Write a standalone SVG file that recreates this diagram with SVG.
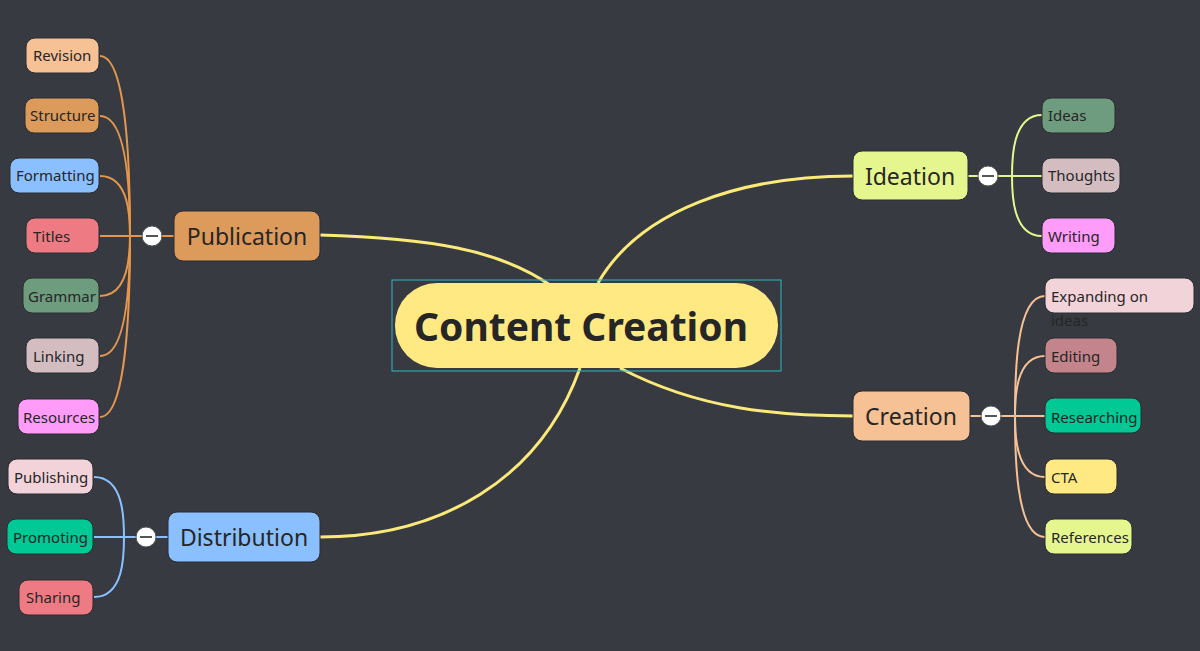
<svg xmlns="http://www.w3.org/2000/svg" width="1200" height="651" viewBox="0 0 1200 651">
<style>
text{font-family:"Noto Sans","Open Sans",sans-serif;fill:#262626}
.c{font-size:15px}
.m{font-size:23px}
.n rect{stroke:#2a2c31;stroke-width:1}
.l{fill:none;stroke-width:2}
.y{fill:none;stroke:#fbe97a;stroke-width:3}
.t{fill:#fff;stroke:#555;stroke-width:1}
</style>
<rect width="1200" height="651" fill="#373a41"/>
<g id="connectors">
<path class="y" d="M320,235 C430,238 500,250 550,285"/>
<path class="y" d="M598,283 C640,210 740,176 853,176"/>
<path class="y" d="M620,368 C700,410 780,416 853,416"/>
<path class="y" d="M580,368 C540,480 440,537 320,537"/>
<g stroke="#e3964e" class="l">
<path d="M100,56 C130,56 130,200 130,236"/><path d="M100,116 C130,116 130,210 130,236"/>
<path d="M100,176 C130,176 130,220 130,236"/><path d="M100,236 H174"/>
<path d="M100,296 C130,296 130,250 130,236"/><path d="M100,356 C130,356 130,260 130,236"/>
<path d="M100,417 C130,417 130,270 130,236"/>
</g>
<g stroke="#8ac0ff" class="l">
<path d="M94,477 C124,477 124,520 124,537"/><path d="M94,537 H168"/><path d="M94,597 C124,597 124,555 124,537"/>
</g>
<g stroke="#e6f68e" class="l">
<path d="M968,176 H1042"/><path d="M1042,115 C1012,115 1012,160 1012,176"/><path d="M1042,236 C1012,236 1012,192 1012,176"/>
</g>
<g stroke="#f5c195" class="l">
<path d="M970,416 H1045"/><path d="M1045,296 C1015,296 1015,380 1015,416"/><path d="M1045,356 C1015,356 1015,400 1015,416"/>
<path d="M1045,477 C1015,477 1015,432 1015,416"/><path d="M1045,537 C1015,537 1015,450 1015,416"/>
</g>
<circle class="t" cx="152" cy="236" r="10"/><path d="M146,236 H158" stroke="#555" stroke-width="2"/>
<circle class="t" cx="146" cy="537" r="10"/><path d="M140,537 H152" stroke="#555" stroke-width="2"/>
<circle class="t" cx="988" cy="176" r="10"/><path d="M982,176 H994" stroke="#555" stroke-width="2"/>
<circle class="t" cx="991" cy="416" r="10"/><path d="M985,416 H997" stroke="#555" stroke-width="2"/>
</g>
<g id="central">
<rect x="392" y="280" width="389" height="91" fill="none" stroke="#31b8c8" stroke-width="1"/>
<rect x="395" y="283" width="383" height="85" rx="42" fill="#ffe983"/>
<text x="581" y="341" text-anchor="middle" font-size="39" font-weight="bold">Content Creation</text>
</g>
<g id="publication" class="n"><rect x="174" y="211" width="146" height="50" rx="9" fill="#dc9a5b"/><text class="m" x="247" y="245" text-anchor="middle">Publication</text></g>
<g id="distribution" class="n"><rect x="168" y="512" width="152" height="50" rx="9" fill="#8ac0ff"/><text class="m" x="244" y="546" text-anchor="middle">Distribution</text></g>
<g id="ideation" class="n"><rect x="853" y="151" width="115" height="49" rx="9" fill="#e6f68e"/><text class="m" x="910" y="185" text-anchor="middle">Ideation</text></g>
<g id="creation" class="n"><rect x="853" y="391" width="117" height="50" rx="9" fill="#f5c195"/><text class="m" x="911" y="425" text-anchor="middle">Creation</text></g>
<g id="revision" class="n"><rect x="26" y="38" width="73" height="35" rx="9" fill="#f5c195"/><text class="c" x="33" y="61">Revision</text></g>
<g id="structure" class="n"><rect x="25" y="98" width="74" height="35" rx="9" fill="#dc9a5b"/><text class="c" x="30" y="121">Structure</text></g>
<g id="formatting" class="n"><rect x="10" y="158" width="89" height="35" rx="9" fill="#8ac0ff"/><text class="c" x="16" y="181">Formatting</text></g>
<g id="titles" class="n"><rect x="26" y="218" width="73" height="35" rx="9" fill="#ee7b84"/><text class="c" x="33" y="242">Titles</text></g>
<g id="grammar" class="n"><rect x="23" y="278" width="76" height="35" rx="9" fill="#6e9c7f"/><text class="c" x="28" y="302">Grammar</text></g>
<g id="linking" class="n"><rect x="26" y="338" width="73" height="35" rx="9" fill="#d4bdc1"/><text class="c" x="33" y="362">Linking</text></g>
<g id="resources" class="n"><rect x="18" y="399" width="81" height="35" rx="9" fill="#ff9cf9"/><text class="c" x="23" y="423">Resources</text></g>
<g id="publishing" class="n"><rect x="8" y="459" width="85" height="35" rx="9" fill="#f2d3d9"/><text class="c" x="14" y="483">Publishing</text></g>
<g id="promoting" class="n"><rect x="7" y="519" width="86" height="35" rx="9" fill="#00c995"/><text class="c" x="13" y="543">Promoting</text></g>
<g id="sharing" class="n"><rect x="19" y="580" width="74" height="35" rx="9" fill="#ee7b84"/><text class="c" x="26" y="603">Sharing</text></g>
<g id="ideas" class="n"><rect x="1042" y="98" width="73" height="35" rx="9" fill="#6e9c7f"/><text class="c" x="1048" y="121">Ideas</text></g>
<g id="thoughts" class="n"><rect x="1042" y="158" width="78" height="35" rx="9" fill="#d4bdc1"/><text class="c" x="1048" y="181">Thoughts</text></g>
<g id="writing" class="n"><rect x="1042" y="218" width="73" height="35" rx="9" fill="#ff9cf9"/><text class="c" x="1048" y="242">Writing</text></g>
<g id="expanding" class="n"><rect x="1045" y="278" width="149" height="35" rx="9" fill="#f2d3d9"/><text class="c" x="1051" y="302">Expanding on</text><text class="c" x="1051" y="326">ideas</text></g>
<g id="editing" class="n"><rect x="1045" y="338" width="72" height="35" rx="9" fill="#c4848c"/><text class="c" x="1051" y="362">Editing</text></g>
<g id="researching" class="n"><rect x="1045" y="398" width="96" height="35" rx="9" fill="#00c995"/><text class="c" x="1051" y="423">Researching</text></g>
<g id="cta" class="n"><rect x="1045" y="459" width="72" height="35" rx="9" fill="#ffe983"/><text class="c" x="1051" y="483">CTA</text></g>
<g id="references" class="n"><rect x="1045" y="519" width="87" height="35" rx="9" fill="#e6f68e"/><text class="c" x="1051" y="543">References</text></g>
</svg>
